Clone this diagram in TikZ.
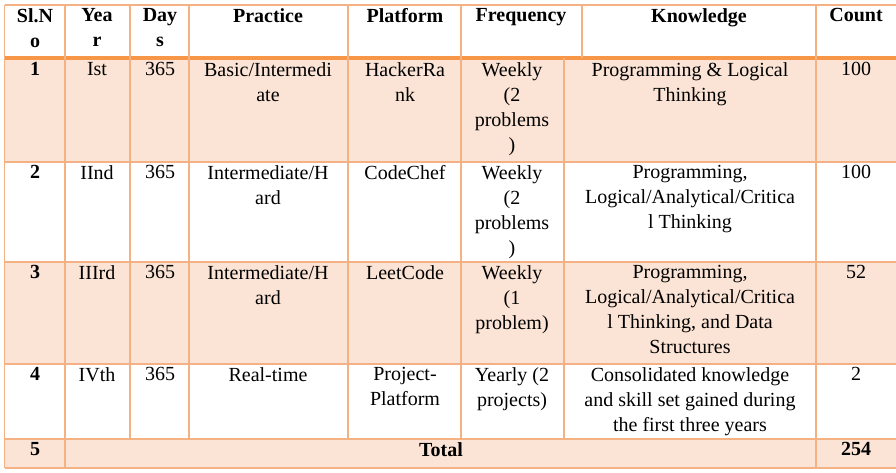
\documentclass[tikz,border=0pt]{standalone}
\usepackage{fontspec}
\setmainfont{Liberation Serif}
\definecolor{tab-line}{HTML}{F4B183}
\definecolor{tab-rule}{HTML}{F79646}
\definecolor{tab-fill}{HTML}{FBE4D5}
\tikzset{
  cell/.style={anchor=north,align=center,inner sep=0pt,font=\fontsize{20}{25}\selectfont},
  head/.style={cell,font=\fontsize{20}{25}\selectfont\bfseries},
  grid/.style={draw=tab-line,line width=1.5pt}
}
\newcommand{\cellat}[4][cell]{\node[#1] (#2) at (#3) {#4};}
\begin{document}
\begin{tikzpicture}[x=1pt,y=-1pt]
    \useasboundingbox (0,0) rectangle (896,473);
    % shaded rows
    \fill[tab-fill] (4.6,58) rectangle (896,162);
    \fill[tab-fill] (4.6,262) rectangle (896,364);
    \fill[tab-fill] (4.6,439) rectangle (896,468);

    % horizontal rules
    \draw[grid] (4.6,5) -- (896,5);
    \draw[draw=tab-rule,line width=4pt] (4.6,58) -- (896,58);
    \foreach \y in {162,262,364,439,468}
        \draw[grid] (4.6,\y) -- (896,\y);

    % vertical rules
    \foreach \x in {4.6,65,816}
        \draw[grid] (\x,5) -- (\x,468);
    \foreach \x in {130,189,348,461}
        \draw[grid] (\x,5) -- (\x,439);
    \draw[grid] (582,5) -- (582,58);
    \draw[grid] (564,58) -- (564,439);

    % header
    \cellat[head]{hSl}{35,8}{Sl.N\\o}
    \cellat[head]{hYear}{97,8}{Yea\\r}
    \cellat[head]{hDays}{160,8}{Day\\s}
    \cellat[head]{hPractice}{268,8}{Practice}
    \cellat[head]{hPlatform}{405,8}{Platform}
    \cellat[head]{hFreq}{521,8}{Frequency}
    \cellat[head]{hKnow}{699,8}{Knowledge}
    \cellat[head]{hCount}{856,8}{Count}

    % row 1
    \cellat[head]{aSl}{35,62}{1}
    \cellat{aYear}{97,62}{Ist}
    \cellat{aDays}{160,62}{365}
    \cellat{aPractice}{268,62}{Basic/Intermedi\\ate}
    \cellat{aPlatform}{405,62}{HackerRa\\nk}
    \cellat{aFreq}{512,62}{Weekly\\(2\\problems\\)}
    \cellat{aKnow}{690,62}{Programming \& Logical\\Thinking}
    \cellat{aCount}{856,62}{100}

    % row 2
    \cellat[head]{bSl}{35,165}{2}
    \cellat{bYear}{97,165}{IInd}
    \cellat{bDays}{160,165}{365}
    \cellat{bPractice}{268,165}{Intermediate/H\\ard}
    \cellat{bPlatform}{405,165}{CodeChef}
    \cellat{bFreq}{512,165}{Weekly\\(2\\problems\\)}
    \cellat{bKnow}{690,165}{Programming,\\Logical/Analytical/Critica\\l Thinking}
    \cellat{bCount}{856,165}{100}

    % row 3
    \cellat[head]{cSl}{35,265}{3}
    \cellat{cYear}{97,265}{IIIrd}
    \cellat{cDays}{160,265}{365}
    \cellat{cPractice}{268,265}{Intermediate/H\\ard}
    \cellat{cPlatform}{405,265}{LeetCode}
    \cellat{cFreq}{512,265}{Weekly\\(1\\problem)}
    \cellat{cKnow}{690,265}{Programming,\\Logical/Analytical/Critica\\l Thinking, and Data\\Structures}
    \cellat{cCount}{856,265}{52}

    % row 4
    \cellat[head]{dSl}{35,367}{4}
    \cellat{dYear}{97,367}{IVth}
    \cellat{dDays}{160,367}{365}
    \cellat{dPractice}{268,367}{Real-time}
    \cellat{dPlatform}{405,367}{Project-\\Platform}
    \cellat{dFreq}{512,367}{Yearly (2\\projects)}
    \cellat{dKnow}{690,367}{Consolidated knowledge\\and skill set gained during\\the first three years}
    \cellat{dCount}{856,367}{2}

    % total row
    \cellat[head]{eSl}{35,442}{5}
    \cellat[head]{eTotal}{441,442}{Total}
    \cellat[head]{eCount}{856,442}{254}
\end{tikzpicture}
\end{document}
